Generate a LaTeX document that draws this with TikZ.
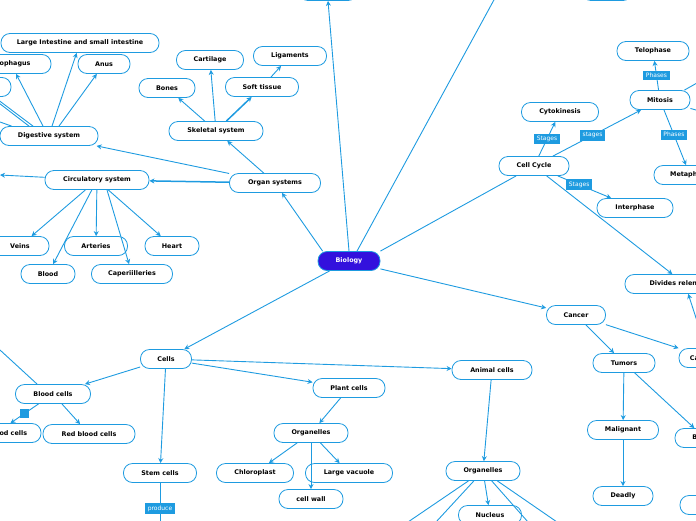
\documentclass[tikz,border=0pt]{standalone}
\usepackage{fontspec}
\setmainfont{DejaVu Sans}
\usetikzlibrary{arrows.meta}
\definecolor{bl}{HTML}{1E9BE0}
\definecolor{bio}{HTML}{3311DD}
\begin{document}
\begin{tikzpicture}[x=1pt,y=-1pt,
 box/.style={draw=bl,line width=0.8pt,rounded corners=9pt,fill=white,minimum height=19pt,inner sep=2pt,font=\bfseries\fontsize{6.4}{7}\selectfont},
 arr/.style={draw=bl,line width=0.9pt,-{Stealth[length=5pt,width=5pt]}},
 ln/.style={draw=bl,line width=0.9pt},
 lab/.style={fill=bl,text=white,font=\fontsize{6}{7}\selectfont,inner sep=2.5pt}]
\useasboundingbox (0,0) rectangle (696,520);
% nodes
\node[box,minimum width=58pt] (top1) at (328,-9) {};
\node[box,minimum width=50pt] (top2) at (607,-9) {};
\node[box,minimum width=158pt] (lisi) at (80,43) {Large Intestine and small intestine};
\node[box,minimum width=80pt] (eso) at (11,64) {Esophagus};
\node[box,minimum width=60pt] (lft) at (-19,87) {};
\node[box,minimum width=52pt] (anus) at (104,64) {Anus};
\node[box,minimum width=98pt] (dig) at (49,136) {Digestive system};
\node[box,minimum width=67pt] (cart) at (210,60) {Cartilage};
\node[box,minimum width=73pt] (lig) at (290,56) {Ligaments};
\node[box,minimum width=56pt] (bones) at (167,88) {Bones};
\node[box,minimum width=73pt] (soft) at (262,87) {Soft tissue};
\node[box,minimum width=94pt] (skel) at (216,131) {Skeletal system};
\node[box,minimum width=104pt] (circ) at (97,180) {Circulatory system};
\node[box,minimum width=91pt] (organ) at (275,183) {Organ systems};
\node[box,minimum width=58pt] (veins) at (20,246) {Veins};
\node[box,minimum width=63pt] (art) at (96,246) {Arteries};
\node[box,minimum width=54pt] (heart) at (172,246) {Heart};
\node[box,minimum width=54pt] (blood) at (48,274) {Blood};
\node[box,minimum width=81pt] (cap) at (132,274) {Caperiilleries};
\node[box,minimum width=62pt,fill=bio,text=white] (bio) at (349,261) {Biology};
\node[box,minimum width=72pt] (telo) at (653,51) {Telophase};
\node[box,minimum width=60pt] (mit) at (660,100) {Mitosis};
\node[box,minimum width=77pt] (cyto) at (560,112) {Cytokinesis};
\node[box,minimum width=70pt] (cc) at (534,166) {Cell Cycle};
\node[box,minimum width=76pt] (inter) at (635,208) {Interphase};
\node[box,minimum width=72pt] (meta) at (690,175) {Metaphase};
\node[box,minimum width=120pt] (div) at (685,284) {Divides relentlessly};
\node[box,minimum width=59pt] (cancer) at (576,315) {Cancer};
\node[box,minimum width=62pt] (tum) at (624,363) {Tumors};
\node[box,minimum width=60pt] (cx) at (709,358) {Carcinoma};
\node[box,minimum width=71pt] (mal) at (623,430) {Malignant};
\node[box,minimum width=60pt] (ben) at (705,438) {Benign};
\node[box,minimum width=60pt] (dead) at (623,496) {Deadly};
\node[box,minimum width=50pt] (bx) at (705,505) {};
\node[box,minimum width=51pt] (cells) at (166,359) {Cells};
\node[box,minimum width=75pt] (bc) at (53,394) {Blood cells};
\node[box,minimum width=90pt] (wbc) at (-4,433) {White blood cells};
\node[box,minimum width=92pt] (rbc) at (89,434) {Red blood cells};
\node[box,minimum width=73pt] (stem) at (160,473) {Stem cells};
\node[box,minimum width=72pt] (plant) at (349,388) {Plant cells};
\node[box,minimum width=74pt] (porg) at (311,433) {Organelles};
\node[box,minimum width=77pt] (chl) at (255,473) {Chloroplast};
\node[box,minimum width=87pt] (lvac) at (349,473) {Large vacuole};
\node[box,minimum width=64pt] (cw) at (311,499) {cell wall};
\node[box,minimum width=80pt] (anim) at (492,370) {Animal cells};
\node[box,minimum width=74pt] (aorg) at (483,471) {Organelles};
\node[box,minimum width=63pt] (nuc) at (490,515) {Nucleus};
\coordinate (c1) at (0,175); \coordinate (c2) at (495,-2);
\coordinate (c3) at (0,350); \coordinate (c4) at (160,530);
\coordinate (c5) at (696,110);
\coordinate (d1) at (408,522); \coordinate (d2) at (436,522);
\coordinate (d3) at (528,522); \coordinate (d4) at (557,522);
% edges
\draw[arr] (bio.north) -- (top1.south);
\draw[ln] (bio.north) ++(8,0) -- (c2);
\draw[arr] (bio.north west) ++(5,0) -- (organ);
\draw[ln] (bio.north east) -- (cc);
\draw[arr] (bio.south east) ++(0,-2) -- (cancer);
\draw[arr] (bio.south west) ++(12,0) -- (cells);
\draw[arr] (organ) -- (skel);
\draw[arr] (organ) -- (dig);
\draw[arr,line width=1.5pt] (organ) -- (circ);
\draw[arr] (skel) -- (bones);
\draw[arr] (skel) -- (cart);
\draw[arr,line width=1.5pt] (skel) -- (soft);
\draw[arr] (soft) -- (lig);
\draw[arr] (dig.north) ++(3,0) -- (lisi);
\draw[arr] (dig.north) ++(10,0) -- (anus);
\draw[arr] (dig.north) ++(-6,0) -- (eso);
\draw[ln] (dig.north) ++(-16,0) -- (lft);
\draw[ln] (dig.north) ++(-20,0) -- (-5,100);
\draw[ln] (dig.north west) ++(12,0) -- (0,122);
\draw[arr] (circ) -- (c1);
\draw[arr] (circ) -- (veins);
\draw[arr] (circ) -- (blood);
\draw[arr] (circ) -- (art);
\draw[arr] (circ.south) ++(10,0) -- (cap);
\draw[arr] (circ) -- (heart);
\draw[arr] (cc) -- node[lab] {Stages} (cyto);
\draw[arr] (cc) -- node[lab,pos=0.45] {stages} (mit);
\draw[arr] (cc) -- node[lab,pos=0.4] {Stages} (inter);
\draw[arr] (cc) -- (div);
\draw[arr] (mit) -- node[lab] {Phases} (telo);
\draw[arr] (mit) -- node[lab,pos=0.45] {Phases} (meta);
\draw[ln] (mit.north east) ++(-6,0) -- node[lab,pos=0.9,anchor=west] {Phases} (720,70);
\draw[ln] (mit) -- (c5);
\draw[arr] (cancer) -- (tum);
\draw[arr] (cancer) -- (cx);
\draw[arr] (cx) -- (div);
\draw[arr] (tum) -- (mal);
\draw[arr] (tum) -- (ben);
\draw[arr] (mal) -- (dead);
\draw[arr] (cells) -- (bc);
\draw[arr] (cells) -- (stem);
\draw[arr] (cells) -- (plant);
\draw[arr] (cells) -- (anim);
\draw[ln] (bc.north west) ++(22,0) -- (c3);
\draw[arr] (bc) -- node[fill=bl,minimum size=9pt,inner sep=0pt] {} (wbc);
\draw[arr] (bc) -- (rbc);
\draw[ln] (stem) -- node[lab,pos=0.55] {produce} (c4);
\draw[arr] (plant) -- (porg);
\draw[arr] (porg) -- (chl);
\draw[arr] (porg) -- (lvac);
\draw[arr] (porg) -- (cw);
\draw[arr] (anim) -- (aorg);
\draw[arr] (aorg) -- (nuc);
\draw[ln] (aorg) -- (d1);
\draw[ln] (aorg) -- (d2);
\draw[ln] (aorg) -- (d3);
\draw[ln] (aorg) -- (d4);
\end{tikzpicture}
\end{document}
